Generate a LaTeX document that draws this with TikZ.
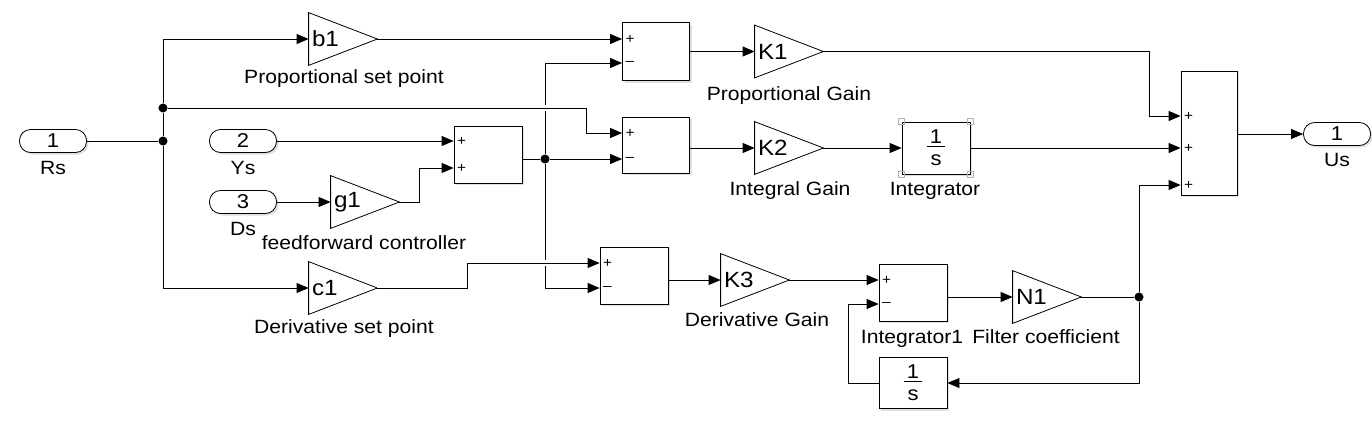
\documentclass[tikz,border=0pt]{standalone}
\usepackage{fontspec}
\setmainfont{Liberation Sans}[FakeStretch=1.1]
\usetikzlibrary{arrows.meta,shadows}

\tikzset{
  sig/.style={-{Triangle[length=6pt,width=5pt]}},
  blk/.style={draw,fill=white,inner sep=0pt,drop shadow={opacity=0.25,shadow xshift=1pt,shadow yshift=-1pt}},
  gbox/.style={inner sep=0pt,minimum width=34pt,minimum height=26pt},
  port/.style={draw,rounded corners=5.5pt,minimum width=33.5pt,minimum height=11.5pt,inner sep=0pt,font=\fontsize{10}{10}\selectfont,fill=white,drop shadow={opacity=0.25,shadow xshift=1pt,shadow yshift=-1pt}},
  lbl/.style={font=\fontsize{9.6}{9.6}\selectfont,inner sep=0pt},
  sgn/.style={font=\fontsize{7}{7}\selectfont,inner sep=1.5pt,right},
  dot/.style={circle,fill,inner sep=1.6pt},
  cross/.style={preaction={draw=white,line width=3pt,-}}
}
\newcommand\gain[4]{%
  \node[gbox] (#1) at (#2,#3) {};
  \fill[white] (#1.north west) -- (#1.east) -- (#1.south west) -- cycle;
  \draw (#1.north west) -- (#1.east) -- (#1.south west) -- cycle;
  \node[right,inner sep=1.5pt,font=\fontsize{11}{11}\selectfont] (#1t) at (#1.west) {#4};}

\begin{document}
\begin{tikzpicture}[x=0.5pt,y=-0.5pt]
\useasboundingbox (0,0) rectangle (1372,436);

%% ports
\node[port] (rs) at (53,141) {1};
\node[port] (ys) at (243,141) {2};
\node[port] (ds) at (243,202) {3};
\node[port] (us) at (1337,134) {1};

%% gains
\gain{b1}{343}{39}{b1}
\gain{g1}{365}{202}{g1}
\gain{c1}{343}{288}{c1}
\gain{k1}{789}{51.5}{K1}
\gain{k2}{789}{148}{K2}
\gain{k3}{755}{280}{K3}
\gain{n1}{1047}{297}{N1}

%% sums and integrators
\node[blk,minimum width=33.5pt,minimum height=29pt] (s1) at (656,51.5) {};
\node[blk,minimum width=33.5pt,minimum height=28pt] (s2) at (656,145) {};
\node[blk,minimum width=34pt,minimum height=28.5pt] (ff) at (488,154.5) {};
\node[blk,minimum width=34pt,minimum height=28.5pt] (s3) at (634,275.5) {};
\node[blk,minimum width=34pt,minimum height=28.5pt] (s5) at (913,292.5) {};
\node[blk,minimum width=28pt,minimum height=62pt] (s4) at (1209,133) {};
\node[blk,minimum width=34pt,minimum height=26pt,align=center,font=\fontsize{10}{10}\selectfont] (int) at (936,148) {\underline{\,1\,}\\[1pt]s};
\node[blk,minimum width=34pt,minimum height=25.5pt,align=center,font=\fontsize{10}{10}\selectfont] (int2) at (913,383) {\underline{\,1\,}\\[1pt]s};
\foreach \c in {north west,north east,south west,south east}
  \draw[gray!60] (int.\c) ++(-3,-3) rectangle ++(6,6);

%% signs
\node[sgn] (p1) at (s1.west|-0,39) {+};
\node[sgn] (m1) at (s1.west|-0,63) {--};
\node[sgn] (p2) at (s2.west|-0,133) {+};
\node[sgn] (m2) at (s2.west|-0,159) {--};
\node[sgn] (p3) at (ff.west|-0,141) {+};
\node[sgn] (p4) at (ff.west|-0,168) {+};
\node[sgn] (p5) at (s3.west|-0,263) {+};
\node[sgn] (m5) at (s3.west|-0,288) {--};
\node[sgn] (p6) at (s5.west|-0,280) {+};
\node[sgn] (m6) at (s5.west|-0,304) {--};
\node[sgn] (p7) at (s4.west|-0,116) {+};
\node[sgn] (p8) at (s4.west|-0,148) {+};
\node[sgn] (p9) at (s4.west|-0,185) {+};

%% labels
\node[lbl] (lrs) at (53,168) {Rs};
\node[lbl] (lys) at (243,168) {Ys};
\node[lbl] (lds) at (243,229) {Ds};
\node[lbl] (lus) at (1337,160) {Us};
\node[lbl] (lb1) at (344,79) {Proportional set point};
\node[lbl] (lg1) at (364,243) {feedforward controller};
\node[lbl] (lc1) at (344,329) {Derivative set point};
\node[lbl] (lk1) at (789,96) {Proportional Gain};
\node[lbl] (lk2) at (790,191) {Integral Gain};
\node[lbl] (lint) at (935,191) {Integrator};
\node[lbl] (lk3) at (757,320) {Derivative Gain};
\node[lbl] (lint2) at (912,339) {Integrator1};
\node[lbl] (ln1) at (1046,337) {Filter coefficient};

%% junctions
\node[dot] (j1) at (163,141) {};
\node[dot] (j2) at (163,108) {};
\node[dot] (jd) at (545,159) {};
\node[dot] (jn) at (1139,297) {};

%% connectors
\draw (rs.east) -- (j1);
\draw (j1) -- (j2);
\draw[sig] (j2) |- (b1.west);
\draw[sig] (j1) |- (c1.west);
\draw[sig] (b1.east) -- (s1.west|-0,39);
\draw[sig] (ys.east) -- (ff.west|-0,141);
\draw[sig] (ds.east) -- (g1.west);
\draw[sig] (g1.east) -| (419,168) -- (ff.west|-0,168);
\draw (ff.east|-0,159) -- (jd);
\draw[sig] (jd) -- (s2.west|-0,159);
\draw[sig] (jd) |- (s1.west|-0,63);
\draw[sig] (jd) |- (s3.west|-0,288);
\draw[sig,cross] (j2) -| (586,133) -- (s2.west|-0,133);
\draw[sig,cross] (c1.east) -| (467,263) -- (s3.west|-0,263);
\draw[sig] (s1.east) -- (k1.west);
\draw[sig] (k1.east) -| (1149,116) -- (s4.west|-0,116);
\draw[sig] (s2.east|-0,148) -- (k2.west);
\draw[sig] (k2.east) -- (int.west);
\draw[sig] (int.east) -- (s4.west|-0,148);
\draw[sig] (s3.east|-0,280) -- (k3.west);
\draw[sig] (k3.east) -- (s5.west|-0,280);
\draw[sig] (s5.east|-0,297) -- (n1.west);
\draw (n1.east) -- (jn);
\draw[sig] (jn) |- (s4.west|-0,185);
\draw[sig] (jn) |- (int2.east);
\draw[sig] (int2.west) -| (848,304) -- (s5.west|-0,304);
\draw[sig] (s4.east|-0,134) -- (us.west);
\end{tikzpicture}
\end{document}
